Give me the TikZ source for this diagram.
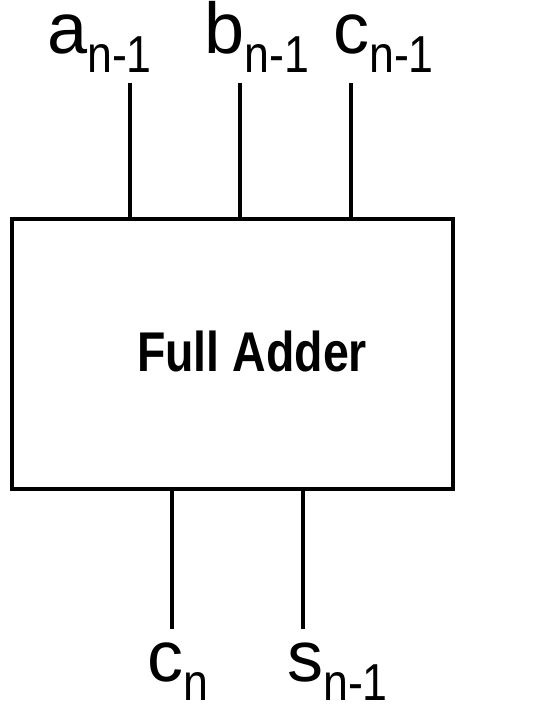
\documentclass[tikz,border=0pt]{standalone}
\usepackage{fontspec}
\setmainfont{Liberation Sans}
\usepackage{tikz}
\usetikzlibrary{calc}
\definecolor{ink}{HTML}{000000}
\newcommand{\iolab}[2]{{\fontsize{72}{74}\selectfont #1}{\fontsize{52}{54}\selectfont\raisebox{-19pt}{\scalebox{0.86}[1]{#2}}}}
\tikzset{
  wire/.style={draw=ink, line width=3.3pt},
  fabox/.style={draw=ink, line width=3.3pt, minimum width=441pt, minimum height=270pt, inner sep=0pt},
  iolabel/.style={anchor=base west, inner sep=0pt, text=ink},
  fatext/.style={anchor=base west, inner sep=0pt, text=ink, font=\bfseries\fontsize{56}{60}\selectfont, xscale=0.83, transform shape}
}

\begin{document}
\begin{tikzpicture}[x=1pt, y=1pt]
  \useasboundingbox (0,0) rectangle (535,719);

  \node[fabox] (fa) at (232.5,365) {};
  \node[fatext] (falabel) at (137,347) {Full Adder};

  % inputs on top
  \coordinate (ain) at (130,636);
  \coordinate (bin) at (240,636);
  \coordinate (cin) at (351,636);
  \draw[wire] (ain) -- (ain |- fa.north);
  \draw[wire] (bin) -- (bin |- fa.north);
  \draw[wire] (cin) -- (cin |- fa.north);
  \node[iolabel] (alabel) at (47,665) {\iolab{a}{n-1}};
  \node[iolabel] (blabel) at (204,665) {\iolab{b}{n-1}};
  \node[iolabel] (clabel) at (333,665) {\iolab{c}{n-1}};

  % outputs below
  \coordinate (cout) at (172,90);
  \coordinate (sout) at (303,90);
  \draw[wire] (cout |- fa.south) -- (cout);
  \draw[wire] (sout |- fa.south) -- (sout);
  \node[iolabel] (coutlabel) at (147,37) {\iolab{c}{n}};
  \node[iolabel] (soutlabel) at (287,37) {\iolab{s}{n-1}};
\end{tikzpicture}
\end{document}
